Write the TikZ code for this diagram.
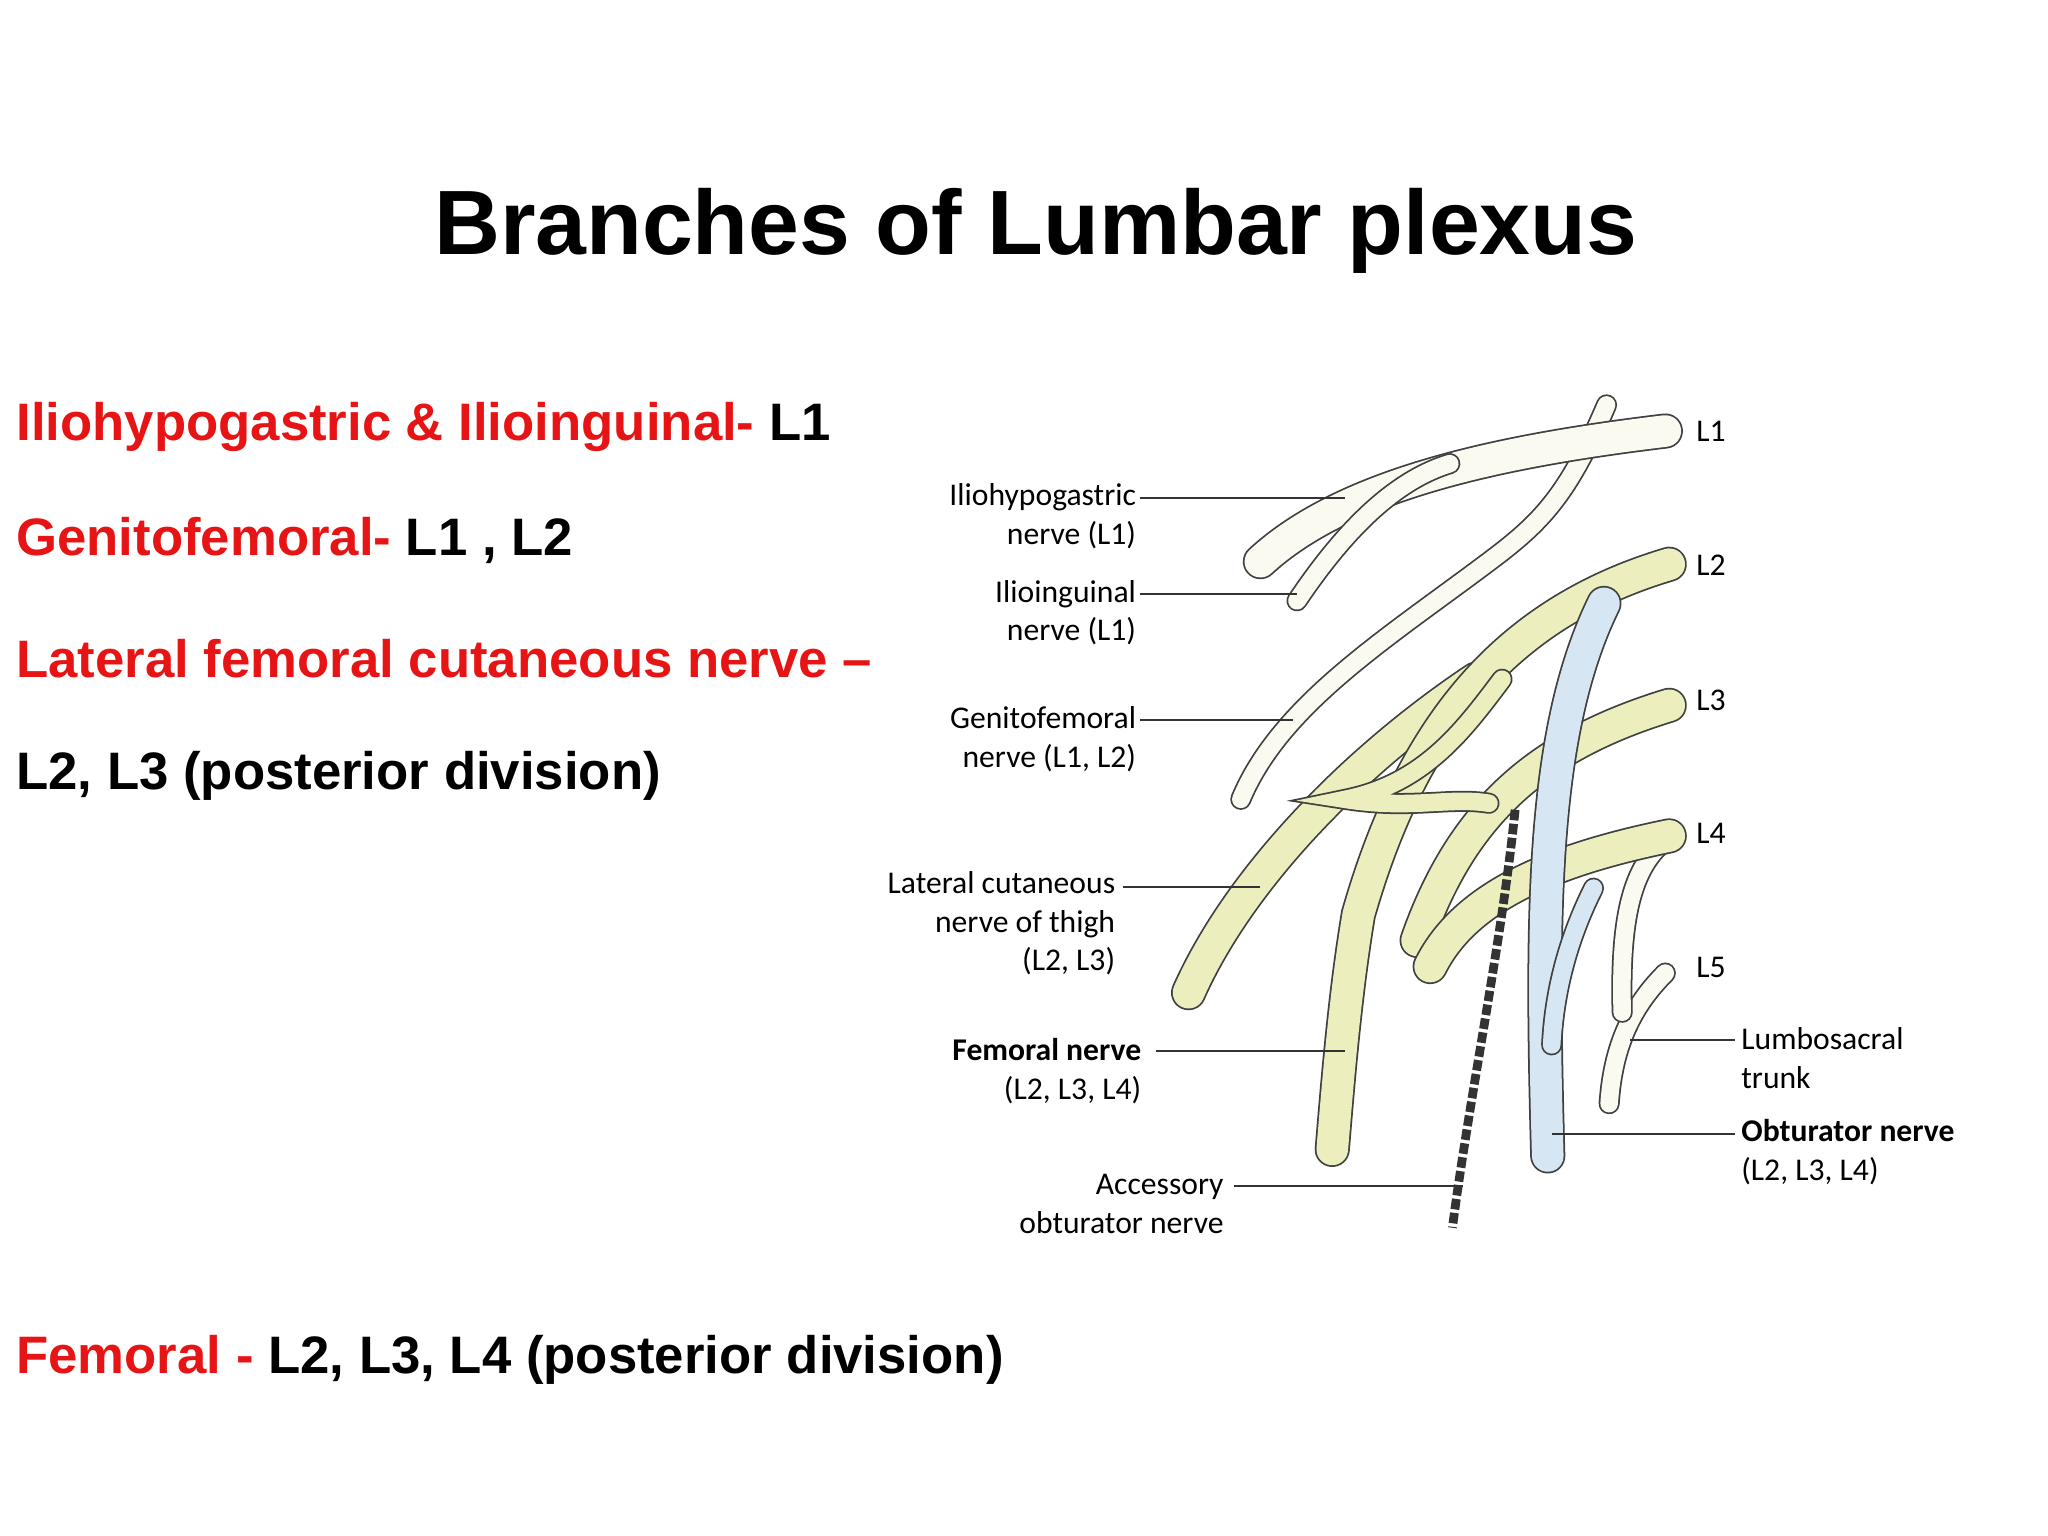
\documentclass[tikz,border=0pt]{standalone}
\usepackage{fontspec}
\setmainfont{Liberation Sans}
\newfontfamily\lblfont{Carlito}
\definecolor{nerveyel}{RGB}{236,238,190}
\definecolor{nervewht}{RGB}{250,250,240}
\definecolor{nerveblu}{RGB}{214,230,242}
\definecolor{hdred}{RGB}{230,20,20}
\tikzset{
  nerve/.style={draw=black!75, line width=0.5pt, double=#1, double distance=9pt, line cap=round},
  thin nerve/.style={draw=black!75, line width=0.5pt, double=#1, double distance=5pt, line cap=round},
  lbl/.style={font=\lblfont\fontsize{9pt}{11pt}\selectfont, align=right, inner sep=1pt},
  lead/.style={draw=black!80, line width=0.6pt},
  side/.style={font=\bfseries\fontsize{15pt}{17pt}\selectfont, anchor=west, inner sep=0pt}
}
\begin{document}
\begin{tikzpicture}[x=0.01306cm, y=-0.01306cm]
\useasboundingbox (0,0) rectangle (1568,1176);

% title and left text
\node[font=\bfseries\fontsize{26pt}{30pt}\selectfont] (title) at (793,177) {Branches of Lumbar plexus};
\node[side] (t1) at (12,327) {\textcolor{hdred}{Iliohypogastric \& Ilioinguinal-} L1};
\node[side] (t2) at (12,414) {\textcolor{hdred}{Genitofemoral-} L1 , L2};
\node[side] (t3) at (12,504) {\textcolor{hdred}{Lateral femoral cutaneous nerve –}};
\node[side] (t4) at (12,594) {L2, L3 (posterior division)};
\node[side] (t5) at (12,1041) {\textcolor{hdred}{Femoral -} L2, L3, L4 (posterior division)};

% nerves
\draw[thin nerve=nervewht] (1230,310) .. controls (1200,380) and (1180,400) .. (1140,430)
  .. controls (1060,490) and (980,540) .. (950,612);
\draw[thin nerve=nervewht] (1275,745) .. controls (1250,770) and (1235,800) .. (1232,845);
\draw[thin nerve=nervewht] (1280,640) .. controls (1250,660) and (1240,700) .. (1242,775);
\draw[nerve=nervewht] (1275,330) .. controls (1150,345) and (1030,370) .. (965,430);
\draw[thin nerve=nervewht] (1110,355) .. controls (1060,370) and (1020,420) .. (993,460);
\draw[nerve=nerveyel] (1130,520) .. controls (1040,580) and (950,670) .. (910,760);
\draw[nerve=nerveyel] (1278,432) .. controls (1150,470) and (1080,560) .. (1040,700)
  .. controls (1030,760) and (1025,820) .. (1020,880);
\draw[nerve=nerveyel] (1278,540) .. controls (1180,570) and (1120,620) .. (1085,720);
\draw[nerve=nerveyel] (1278,640) .. controls (1180,660) and (1120,690) .. (1095,740);
\draw[thin nerve=nerveyel] (1150,520) .. controls (1120,560) and (1090,600) .. (1030,612)
  .. controls (1080,620) and (1110,610) .. (1140,615);
\draw[nerve=nerveblu] (1228,462) .. controls (1180,560) and (1180,700) .. (1185,885);
\draw[thin nerve=nerveblu] (1220,680) .. controls (1200,720) and (1190,760) .. (1188,800);
\draw[black!80, line width=2.5pt, dash pattern=on 3pt off 1pt] (1160,620) .. controls (1150,720) and (1125,840) .. (1112,940);

% root labels
\foreach \n/\y in {L1/330, L2/433, L3/536, L4/638, L5/741}
  \node[lbl] (\n) at (1310,\y) {\n};

% side labels with leaders
\coordinate (ihp) at (1030,381);
\coordinate (iin) at (993,455);
\coordinate (gfm) at (990,551);
\coordinate (lct) at (965,679);
\coordinate (fem) at (1030,805);
\coordinate (aob) at (1120,908);
\coordinate (lst) at (1248,796);
\coordinate (obt) at (1188,868);
\node[lbl, anchor=east] (ihplbl) at (873,395) {Iliohypogastric\\nerve (L1)};
\node[lbl, anchor=east] (iinlbl) at (873,469) {Ilioinguinal\\nerve (L1)};
\node[lbl, anchor=east] (gfmlbl) at (873,566) {Genitofemoral\\nerve (L1, L2)};
\node[lbl, anchor=east] (lctlbl) at (857,707) {Lateral cutaneous\\nerve of thigh\\(L2, L3)};
\node[lbl, anchor=east] (femlbl) at (877,820) {\textbf{Femoral nerve}\\(L2, L3, L4)};
\node[lbl, anchor=east] (aoblbl) at (940,922) {Accessory\\obturator nerve};
\node[lbl, anchor=west, align=left] (lstlbl) at (1330,810) {Lumbosacral\\trunk};
\node[lbl, anchor=west, align=left] (obtlbl) at (1330,882) {\textbf{Obturator nerve}\\(L2, L3, L4)};
\draw[lead] (873,381) -- (ihp);
\draw[lead] (873,455) -- (iin);
\draw[lead] (873,551) -- (gfm);
\draw[lead] (860,679) -- (lct);
\draw[lead] (885,805) -- (fem);
\draw[lead] (945,908) -- (aob);
\draw[lead] (1328,796) -- (lst);
\draw[lead] (1328,868) -- (obt);
\end{tikzpicture}
\end{document}
